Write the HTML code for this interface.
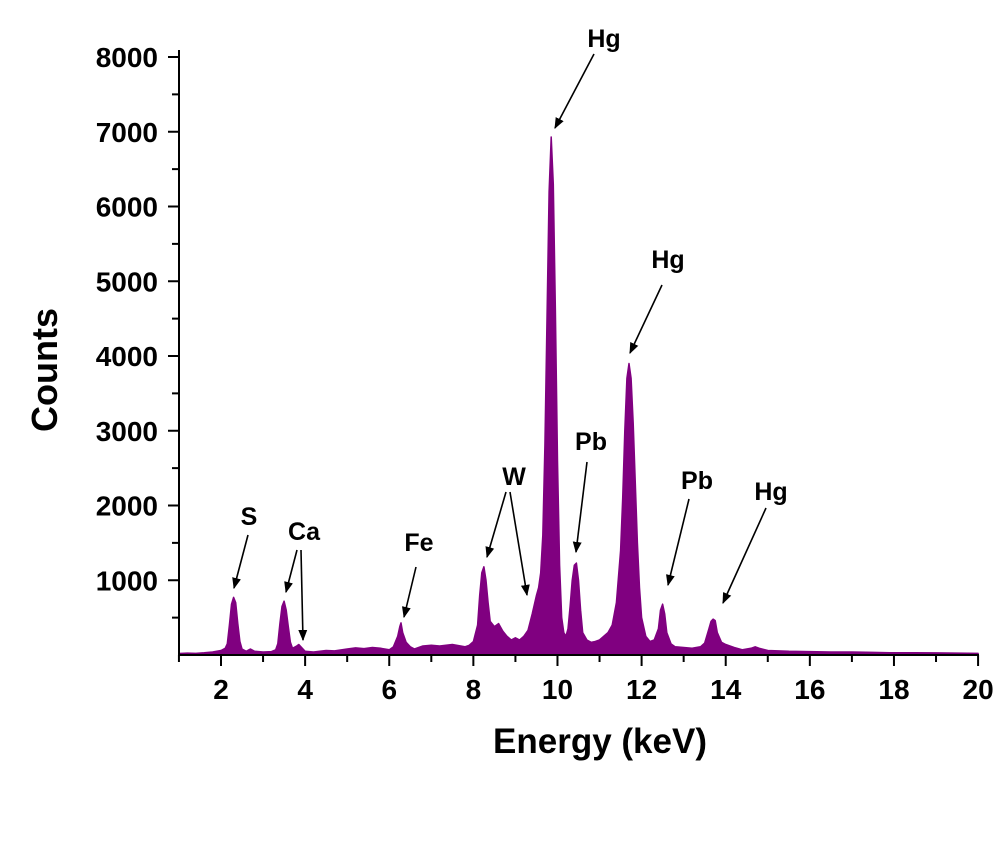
<!DOCTYPE html>
<html><head><meta charset="utf-8"><style>
html,body{margin:0;padding:0;background:#fff;}
svg text{font-family:"Liberation Sans",Arial,sans-serif;font-weight:bold;fill:#000;}
</style></head><body>
<svg id="chart" width="1007" height="841" viewBox="0 0 1007 841" xmlns="http://www.w3.org/2000/svg">
<defs><marker id="ah" viewBox="0 0 10 10" refX="9" refY="5" markerWidth="7" markerHeight="7" orient="auto-start-reverse"><path d="M0,1 L10,5 L0,9 z" fill="#000"/></marker></defs>
<g id="plot"></g>
<g id="axes"></g>
<g id="annot"></g>
<text x="0" y="0" transform="translate(57,370) rotate(-90)" text-anchor="middle" font-size="36">Counts</text>
<text x="600" y="753" text-anchor="middle" font-size="35">Energy (keV)</text>
</svg>
<script>
const energies=[1.0,1.2,1.4,1.6,1.8,2.0,2.1,2.15,2.2,2.25,2.3,2.35,2.4,2.45,2.5,2.6,2.7,2.8,3.0,3.2,3.3,3.35,3.4,3.45,3.5,3.55,3.6,3.65,3.7,3.8,3.85,3.9,4.0,4.2,4.5,4.7,5.0,5.2,5.4,5.6,5.8,6.0,6.1,6.2,6.25,6.28,6.32,6.4,6.5,6.6,6.8,7.0,7.2,7.5,7.8,7.9,8.0,8.1,8.15,8.2,8.25,8.3,8.35,8.4,8.5,8.6,8.7,8.8,8.9,9.0,9.1,9.2,9.3,9.4,9.5,9.55,9.6,9.65,9.7,9.75,9.8,9.85,9.9,9.95,10.0,10.05,10.1,10.15,10.2,10.25,10.3,10.35,10.4,10.45,10.5,10.55,10.6,10.7,10.8,10.9,11.0,11.1,11.2,11.3,11.4,11.5,11.55,11.6,11.65,11.7,11.75,11.8,11.85,11.9,11.95,12.0,12.1,12.2,12.3,12.4,12.45,12.5,12.55,12.6,12.7,12.8,13.0,13.2,13.4,13.5,13.6,13.65,13.7,13.75,13.8,13.9,14.0,14.2,14.4,14.6,14.7,14.8,15.0,15.5,16,16.5,17,17.5,18,18.5,19,19.5,20];
const counts=[20,25,22,30,40,60,90,150,400,680,770,700,420,180,80,50,80,50,40,45,70,150,420,650,720,600,380,170,90,120,140,110,50,40,60,55,80,95,85,100,90,70,110,250,380,430,300,170,110,80,120,130,120,140,110,130,180,400,800,1100,1180,1000,700,450,380,420,320,250,200,230,200,250,330,550,800,900,1100,1600,2800,4500,6200,6930,6300,4600,2600,1200,500,300,250,350,650,1000,1200,1230,1000,600,300,200,170,180,200,250,300,400,700,1400,2100,3000,3700,3900,3700,3100,2300,1500,900,500,250,180,200,350,600,680,550,300,150,110,100,90,110,160,350,450,480,460,300,170,140,100,70,90,110,90,60,50,45,40,40,35,30,30,28,25,22];
const xTicks=[2,4,6,8,10,12,14,16,18,20];
const yTicks=[1000,2000,3000,4000,5000,6000,7000,8000];
const labels=["Hg","Hg","Pb","W","Pb","Hg","S","Ca","Fe"];
const X0=179,Y0=655;
function xs(e){return 221+(e-2)*42.06;}
function ys(c){return Y0-c*0.07475;}
const NS="http://www.w3.org/2000/svg";
function mk(tag,attrs,parent){const el=document.createElementNS(NS,tag);for(const k in attrs)el.setAttribute(k,attrs[k]);parent.appendChild(el);return el;}
const plot=document.getElementById('plot'),axes=document.getElementById('axes'),annot=document.getElementById('annot');
let d="M"+xs(energies[0])+","+Y0;
for(let i=0;i<energies.length;i++)d+=" L"+xs(energies[i]).toFixed(1)+","+ys(counts[i]).toFixed(1);
d+=" L"+xs(energies[energies.length-1])+","+Y0+" Z";
const area=mk('path',{d:d,fill:'#800080',stroke:'#800080','stroke-width':1.5,'stroke-linejoin':'round'},plot);


const ax=mk('path',{d:`M${X0},50 L${X0},${Y0} L979,${Y0}`,fill:'none',stroke:'#000','stroke-width':2},axes);


for(let v=1;v<=20;v++){const x=xs(v);const maj=v%2===0;
 mk('line',{x1:x,y1:Y0,x2:x,y2:Y0+(maj?11:7),stroke:'#000','stroke-width':2},axes);}
xTicks.forEach(v=>{const t=mk('text',{x:xs(v),y:Y0+44,'text-anchor':'middle','font-size':28},axes);t.textContent=v;
 
 });
for(let v=500;v<=8000;v+=500){const y=ys(v);const maj=v%1000===0;
 mk('line',{x1:X0-(maj?11:7),y1:y,x2:X0,y2:y,stroke:'#000','stroke-width':2},axes);}
yTicks.forEach(v=>{const t=mk('text',{x:158,y:ys(v)+10,'text-anchor':'end','font-size':28},axes);t.textContent=v;
 
 });
const lpos=[[604,47],[668,268],[591,450],[514,485],[697,489],[771,500],[249,525],[304,540],[419,551]];
labels.forEach((s,i)=>{const t=mk('text',{x:lpos[i][0],y:lpos[i][1],'text-anchor':'middle','font-size':25},annot);t.textContent=s;
 
 });
const arrows=[[594,54,555,128],[662,285,630,353],[587,462,576,552],[506,492,487,557],[510,492,527,595],[689,499,668,585],[766,508,723,603],[248,535,234,588],[297,550,286,592],[301,550,303,640],[416,567,404,617]];
arrows.forEach(a=>{const l=mk('line',{x1:a[0],y1:a[1],x2:a[2],y2:a[3],stroke:'#000','stroke-width':1.6,'marker-end':'url(#ah)'},annot);
 
 });
</script>
</body></html>
